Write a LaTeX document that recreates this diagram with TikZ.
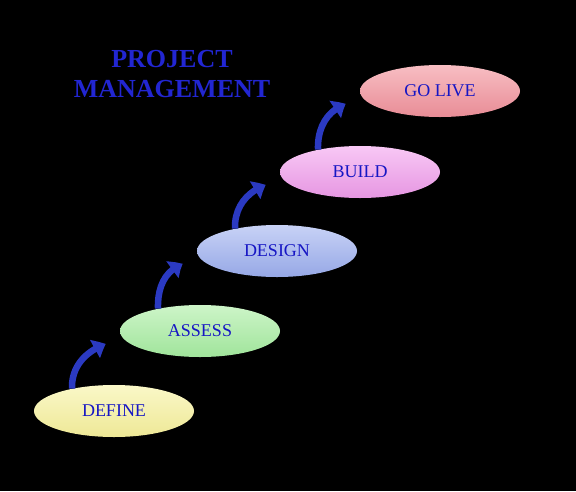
\documentclass[tikz,border=0pt]{standalone}
\usepackage{fontspec}
\setmainfont{Liberation Serif}
\usetikzlibrary{arrows.meta, bending, shapes.geometric}

\definecolor{titleblue}{HTML}{2226D2}
\definecolor{textblue}{HTML}{1616C4}
\definecolor{arrowblue}{HTML}{2B3AC2}

\tikzset{
    stage/.style={ellipse, minimum width=160pt, minimum height=52pt, inner sep=0pt,
        text=textblue, font=\fontsize{18}{20}\selectfont},
    hop/.style={arrowblue, line width=6.5pt, -{Triangle[width=20pt, length=12pt, bend]}}
}

\begin{document}
\begin{tikzpicture}[x=1pt, y=-1pt]

    % Background
    \fill[black] (0,0) rectangle (576,491);
    \useasboundingbox (0,0) rectangle (576,491);

    % Title
    \node[titleblue, font=\fontsize{26}{30}\selectfont\bfseries, align=center] (title) at (172,74)
        {PROJECT\\[0pt]MANAGEMENT};

    % Stages
    \node[stage, top color={rgb,255:red,250;green,248;blue,200}, bottom color={rgb,255:red,238;green,232;blue,150}] (define) at (114,411) {DEFINE};
    \node[stage, top color={rgb,255:red,205;green,245;blue,200}, bottom color={rgb,255:red,160;green,228;blue,155}] (assess) at (200,331) {ASSESS};
    \node[stage, top color={rgb,255:red,200;green,210;blue,246}, bottom color={rgb,255:red,150;green,168;blue,230}] (design) at (277,251) {DESIGN};
    \node[stage, top color={rgb,255:red,248;green,200;blue,245}, bottom color={rgb,255:red,230;green,150;blue,226}] (build) at (360,172) {BUILD};
    \node[stage, top color={rgb,255:red,248;green,190;blue,195}, bottom color={rgb,255:red,232;green,140;blue,150}] (golive) at (440,91) {GO LIVE};

    % Arrows between stages
    \foreach \a/\b in {define/assess, assess/design, design/build, build/golive}
        \draw[hop] (\a.152) to[out=92, in=200] ([shift={(-14,13)}]\b.west);

\end{tikzpicture}
\end{document}
